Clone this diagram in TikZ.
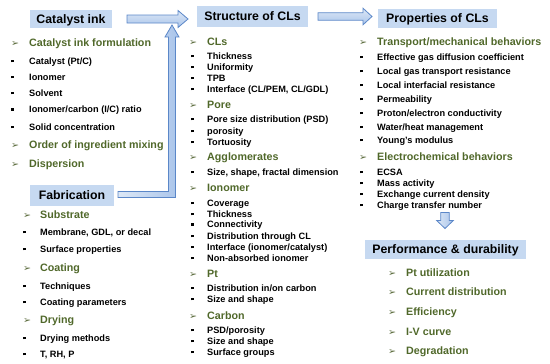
\documentclass[tikz,border=0pt]{standalone}
\usepackage{fontspec}
\setmainfont{Liberation Sans}
\newfontfamily\symf{DejaVu Sans}
\usetikzlibrary{calc}
\definecolor{titlefill}{HTML}{C6D9F1}
\definecolor{hgreen}{HTML}{50682A}
\definecolor{mkgreen}{HTML}{5E6E40}
\definecolor{arrowline}{HTML}{5B87C8}
\definecolor{arrowlight}{HTML}{DDE8F6}
\definecolor{arrowdark}{HTML}{A9C4EA}
\newcommand\sq[1]{\llap{\raisebox{2pt}{\rule{2.6pt}{2.6pt}}\hspace{#1pt}}}
\newcommand\mk[1]{\llap{{\symf\fontsize{9.5}{9.5}\selectfont\color{mkgreen}➢}\hspace{#1pt}}}
\tikzset{
  titlebox/.style={fill=titlefill, inner sep=0pt, font=\fontsize{12.3}{14}\selectfont\bfseries, text height=8.9pt, text depth=0pt},
  body/.style={anchor=base west, inner sep=0pt, font=\fontsize{9.2}{11}\selectfont\bfseries, yshift=-3.3pt},
  head/.style={anchor=base west, inner sep=0pt, font=\fontsize{10.7}{12}\selectfont\bfseries, text=hgreen, yshift=-3.8pt},
  hblock/.style={draw=arrowline, line width=0.8pt, top color=arrowlight, bottom color=arrowdark},
  vblock/.style={draw=arrowline, line width=0.8pt, left color=arrowlight, right color=arrowdark}
}
\newcommand\harrow[5]{%
  \path let \p1=(#1), \p2=(#2) in [hblock]
   (\x1,{\y1+#3pt}) -- ({\x2-#5pt},{\y1+#3pt}) -- ({\x2-#5pt},{\y1+#4pt}) -- (\x2,\y1)
   -- ({\x2-#5pt},{\y1-#4pt}) -- ({\x2-#5pt},{\y1-#3pt}) -- (\x1,{\y1-#3pt}) -- cycle;}
\begin{document}
\begin{tikzpicture}[x=1pt,y=-1pt]
\useasboundingbox (0,0) rectangle (550,364);

% title boxes
\node[titlebox, minimum width=82pt, minimum height=18pt] (ink) at (71,19) {Catalyst ink};
\node[titlebox, minimum width=111pt, minimum height=21pt] (struct) at (252.5,16.5) {Structure of CLs};
\node[titlebox, minimum width=119pt, minimum height=19pt] (prop) at (437.5,18) {Properties of CLs};
\node[titlebox, minimum width=84pt, minimum height=21pt] (fab) at (72,195.5) {Fabrication};
\node[titlebox, minimum width=161pt, minimum height=19pt] (perf) at (445.5,249.5) {Performance \& durability};

% connectors
\coordinate (a1s) at (127,19);
\coordinate (a1e) at (188,19);
\harrow{a1s}{a1e}{4}{8.5}{10}
\coordinate (a2s) at (318,16.5);
\coordinate (a2e) at (372,16.5);
\harrow{a2s}{a2e}{3.7}{8.3}{9}
\coordinate (ls) at (118,194.5);
\coordinate (lt) at (172,25);
\path let \p1=(ls), \p2=(lt) in [vblock]
  (\x1,{\y1+3pt}) -- ({\x2-3.5pt},{\y1+3pt}) -- ({\x2-3.5pt},{\y2-12pt}) -- ({\x2-7pt},{\y2-12pt})
  -- (\x2,\y2) -- ({\x2+7pt},{\y2-12pt}) -- ({\x2+3.5pt},{\y2-12pt}) -- ({\x2+3.5pt},{\y1-3pt})
  -- (\x1,{\y1-3pt}) -- cycle;
\coordinate (ds) at (445,212.5);
\coordinate (de) at (445,228.5);
\path let \p1=(ds), \p2=(de) in [vblock]
  ({\x1-4.3pt},\y1) -- ({\x1+4.3pt},\y1) -- ({\x1+4.3pt},{\y2+8pt}) -- ({\x1+8.3pt},{\y2+8pt})
  -- (\x2,\y2) -- ({\x1-8.3pt},{\y2+8pt}) -- ({\x1-4.3pt},{\y2+8pt}) -- cycle;

% left column: catalyst ink
\node[head] (c1) at (29,43) {\mk{10}Catalyst ink formulation};
\node[body] (c2) at (29,61) {\sq{15.7}Catalyst (Pt/C)};
\node[body] (c3) at (29,77) {\sq{15.7}Ionomer};
\node[body] (c4) at (29,93) {\sq{15.7}Solvent};
\node[body] (c5) at (29,109.5) {\sq{15.7}Ionomer/carbon (I/C) ratio};
\node[body] (c6) at (29,127) {\sq{15.7}Solid concentration};
\node[head] (c7) at (29,145) {\mk{10}Order of ingredient mixing};
\node[head] (c8) at (29,164) {\mk{10}Dispersion};

% left column: fabrication
\node[head] (f1) at (40,215) {\mk{9}Substrate};
\node[body] (f2) at (40,232) {\sq{14.7}Membrane, GDL, or decal};
\node[body] (f3) at (40,249) {\sq{14.7}Surface properties};
\node[head] (f4) at (40,268) {\mk{9}Coating};
\node[body] (f5) at (40,286) {\sq{14.7}Techniques};
\node[body] (f6) at (40,302) {\sq{14.7}Coating parameters};
\node[head] (f7) at (40,320) {\mk{9}Drying};
\node[body] (f8) at (40,338) {\sq{14.7}Drying methods};
\node[body] (f9) at (40,354) {\sq{14.7}T, RH, P};

% middle column
\node[head] (s1) at (207,42) {\mk{10}CLs};
\node[body] (s2) at (207,56) {\sq{13.7}Thickness};
\node[body] (s3) at (207,67) {\sq{13.7}Uniformity};
\node[body] (s4) at (207,78) {\sq{13.7}TPB};
\node[body] (s5) at (207,89) {\sq{13.7}Interface (CL/PEM, CL/GDL)};
\node[head] (s6) at (207,105) {\mk{10}Pore};
\node[body] (s7) at (207,119) {\sq{13.7}Pore size distribution (PSD)};
\node[body] (s8) at (207,131) {\sq{13.7}porosity};
\node[body] (s9) at (207,142) {\sq{13.7}Tortuosity};
\node[head] (s10) at (207,157) {\mk{10}Agglomerates};
\node[body] (s11) at (207,172) {\sq{13.7}Size, shape, fractal dimension};
\node[head] (s12) at (207,188) {\mk{10}Ionomer};
\node[body] (s13) at (207,203) {\sq{13.7}Coverage};
\node[body] (s14) at (207,214) {\sq{13.7}Thickness};
\node[body] (s15) at (207,224.5) {\sq{13.7}Connectivity};
\node[body] (s16) at (207,236) {\sq{13.7}Distribution through CL};
\node[body] (s17) at (207,247) {\sq{13.7}Interface (ionomer/catalyst)};
\node[body] (s18) at (207,258) {\sq{13.7}Non-absorbed ionomer};
\node[head] (s19) at (207,274) {\mk{10}Pt};
\node[body] (s20) at (207,288) {\sq{13.7}Distribution in/on carbon};
\node[body] (s21) at (207,299) {\sq{13.7}Size and shape};
\node[head] (s22) at (207,316) {\mk{10}Carbon};
\node[body] (s23) at (207,330) {\sq{13.7}PSD/porosity};
\node[body] (s24) at (207,341) {\sq{13.7}Size and shape};
\node[body] (s25) at (207,352) {\sq{13.7}Surface groups};

% right column
\node[head] (p1) at (377,42) {\mk{10}Transport/mechanical behaviors};
\node[body] (p2) at (377,57) {\sq{14.7}Effective gas diffusion coefficient};
\node[body] (p3) at (377,71) {\sq{14.7}Local gas transport resistance};
\node[body] (p4) at (377,85) {\sq{14.7}Local interfacial resistance};
\node[body] (p5) at (377,99) {\sq{14.7}Permeability};
\node[body] (p6) at (377,113) {\sq{14.7}Proton/electron conductivity};
\node[body] (p7) at (377,127) {\sq{14.7}Water/heat management};
\node[body] (p8) at (377,140) {\sq{14.7}Young’s modulus};
\node[head] (p9) at (377,157) {\mk{10}Electrochemical behaviors};
\node[body] (p10) at (377,172) {\sq{14.7}ECSA};
\node[body] (p11) at (377,183) {\sq{14.7}Mass activity};
\node[body] (p12) at (377,194) {\sq{14.7}Exchange current density};
\node[body] (p13) at (377,205) {\sq{14.7}Charge transfer number};

% performance
\node[head] (d1) at (406,273) {\mk{10}Pt utilization};
\node[head] (d2) at (406,292) {\mk{10}Current distribution};
\node[head] (d3) at (406,312) {\mk{10}Efficiency};
\node[head] (d4) at (406,332) {\mk{10}I-V curve};
\node[head] (d5) at (406,351) {\mk{10}Degradation};
\end{tikzpicture}
\end{document}
